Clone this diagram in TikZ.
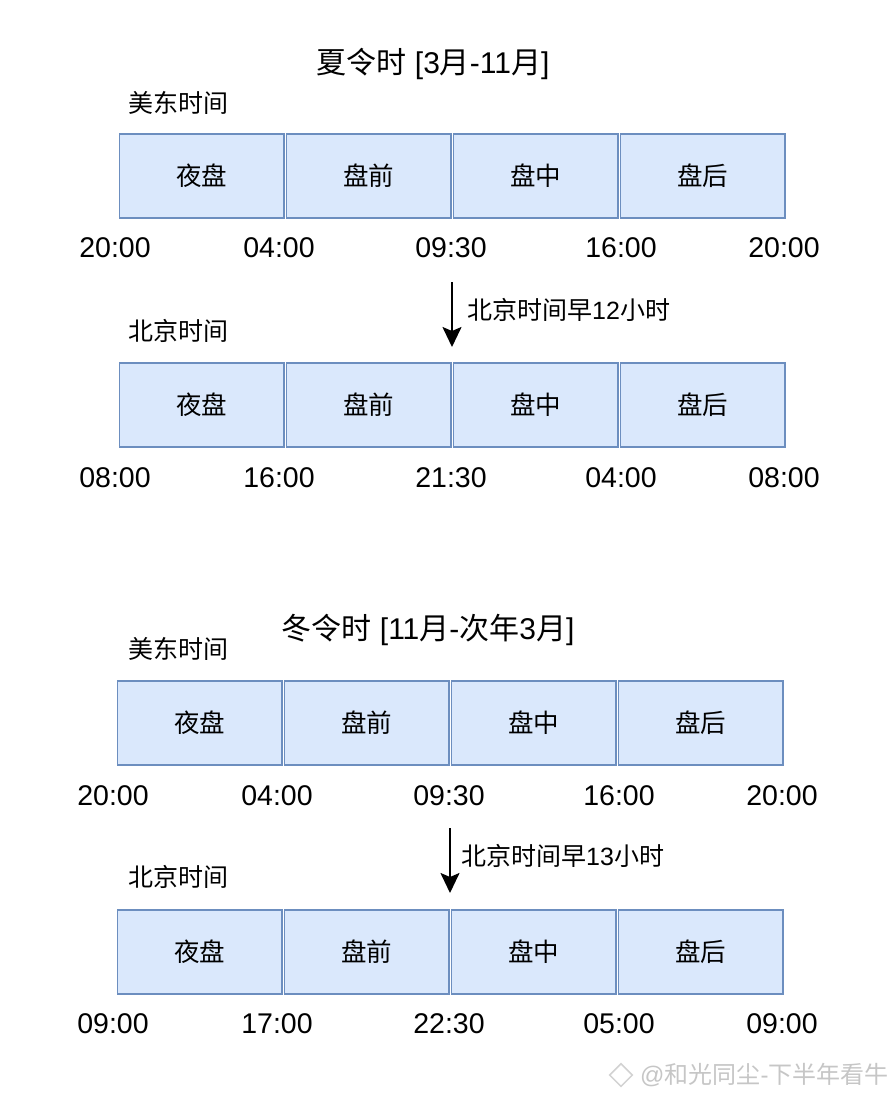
\documentclass[tikz,border=0pt]{standalone}
\usepackage{fontspec}
\setmainfont{Liberation Sans}
\newfontfamily\cjk{Noto Sans CJK SC}
\usetikzlibrary{arrows.meta}
\definecolor{cellfill}{HTML}{DAE8FC}
\definecolor{celldraw}{HTML}{6C8EBF}
\tikzset{
  cell/.style={draw=celldraw, fill=cellfill, line width=1.5pt, minimum width=164.5pt,
    minimum height=84pt, inner sep=0pt, font=\cjk\fontsize{25.5}{30}\selectfont},
  zone/.style={anchor=west, inner sep=0pt, font=\cjk\fontsize{25}{30}\selectfont},
  hour/.style={inner sep=0pt, font=\fontsize{28.5}{34}\selectfont},
  title/.style={inner sep=0pt, font=\fontsize{30}{36}\selectfont},
  offset/.style={anchor=west, inner sep=0pt, font=\fontsize{25}{30}\selectfont},
}
\newcommand{\zh}[1]{{\cjk #1}}

\begin{document}
\begin{tikzpicture}[x=1pt,y=-1pt,>={Stealth[length=20pt,width=19pt,inset=4pt]}]
  \useasboundingbox (0,0) rectangle (896,1100);
  \fill[white] (0,0) rectangle (896,1100);

  % titles and zone names
  \node[title] (sum) at (433,64) {\zh{夏令时} [3\zh{月}-11\zh{月}]};
  \node[title] (win) at (428,630) {\zh{冬令时} [11\zh{月}-\zh{次年}3\zh{月}]};
  \node[zone] (us1) at (128,103) {美东时间};
  \node[zone] (bj1) at (128,331) {北京时间};
  \node[zone] (us2) at (128,649) {美东时间};
  \node[zone] (bj2) at (128,877) {北京时间};

  % four rows of sessions
  \foreach \r/\x/\y in {1/118/176, 2/118/405, 3/116/723, 4/116/952}
    \foreach \i/\txt in {0/夜盘, 1/盘前, 2/盘中, 3/盘后}
      \node[cell] (c\r-\i) at (\x+83.5+167*\i,\y) {\txt};

  % hours under the rows
  \foreach \i/\x/\t in {0/115/20:00, 1/279/04:00, 2/451/09:30, 3/621/16:00, 4/784/20:00}
    \node[hour] (t1-\i) at (\x,248) {\t};
  \foreach \i/\x/\t in {0/115/08:00, 1/279/16:00, 2/451/21:30, 3/621/04:00, 4/784/08:00}
    \node[hour] (t2-\i) at (\x,478) {\t};
  \foreach \i/\x/\t in {0/113/20:00, 1/277/04:00, 2/449/09:30, 3/619/16:00, 4/782/20:00}
    \node[hour] (t3-\i) at (\x,796) {\t};
  \foreach \i/\x/\t in {0/113/09:00, 1/277/17:00, 2/449/22:30, 3/619/05:00, 4/782/09:00}
    \node[hour] (t4-\i) at (\x,1024) {\t};

  % shift to Beijing time
  \coordinate (a1s) at (452,282);
  \coordinate (a1e) at (452,347);
  \draw[->, line width=2pt] (a1s) -- (a1e);
  \node[offset] (d1) at (467,310) {\zh{北京时间早}12\zh{小时}};
  \coordinate (a2s) at (450,828);
  \coordinate (a2e) at (450,893);
  \draw[->, line width=2pt] (a2s) -- (a2e);
  \node[offset] (d2) at (461,856) {\zh{北京时间早}13\zh{小时}};

  % watermark
  \draw[gray!35, line width=1.5pt, rotate around={45:(621,1075)}]
    (613,1067) rectangle (629,1083);
  \node[offset, text=gray!45, font=\fontsize{24}{28}\selectfont] (wm) at (640,1075)
    {@\zh{和光同尘}-\zh{下半年看牛}};
\end{tikzpicture}
\end{document}
